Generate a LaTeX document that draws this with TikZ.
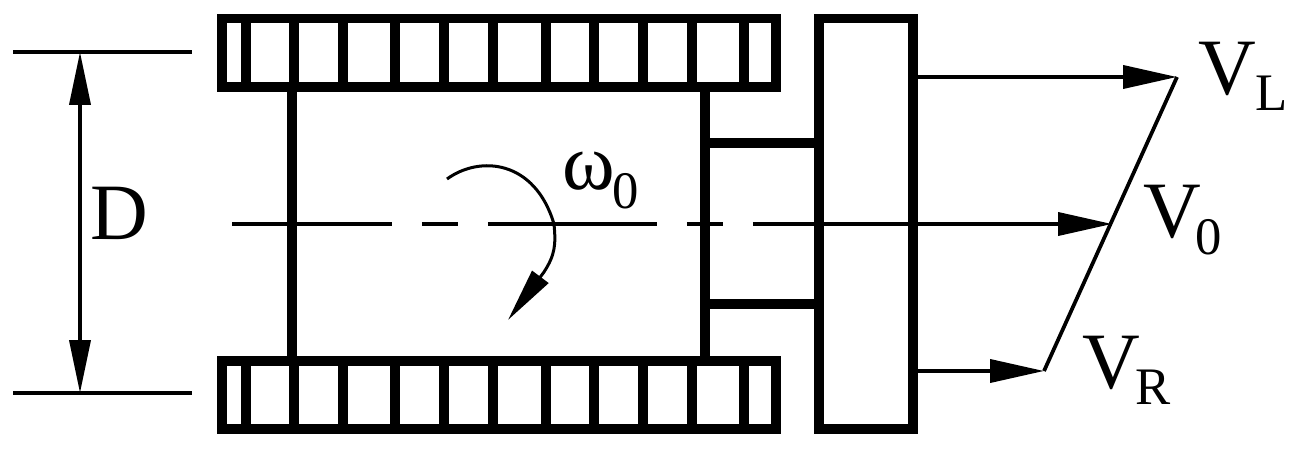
\documentclass[tikz,border=0pt]{standalone}
\usepackage{fontspec}
\setmainfont{Liberation Serif}
\usetikzlibrary{arrows.meta}

\newcommand{\bigsize}{\fontsize{45.5}{50}\selectfont}
\newcommand{\subsize}{\fontsize{30}{34}\selectfont}
\newcommand{\lowsub}[2]{\raisebox{-#1}{\subsize #2}}

\tikzset{
  heavy/.style={line width=0.185cm},
  thin line/.style={line width=0.075cm},
  vec/.style={thin line, -{Triangle[length=1.08cm,width=0.46cm]}},
  dimline/.style={thin line, {Triangle[length=1.06cm,width=0.42cm]}-{Triangle[length=1.06cm,width=0.42cm]}},
  spin/.style={line width=0.06cm, -{Triangle[length=1.08cm,width=0.40cm]}},
  lbl/.style={anchor=base west, inner sep=0pt, outer sep=0pt, font=\bigsize}
}

\begin{document}
\begin{tikzpicture}[x=0.02cm,y=-0.02cm]
  \useasboundingbox (0,0) rectangle (1301,452);

  % Tracks with their cross bars
  \draw[heavy] (222,18.5) rectangle (776,87);
  \draw[heavy] (222,361) rectangle (776,429);
  \foreach \x in {246,294,343,395,444,493,546,594,643,692,744}{
    \draw[heavy] (\x,18.5) -- (\x,87);
    \draw[heavy] (\x,361) -- (\x,429);
  }

  % Body, stub and wheel
  \draw[heavy] (292,87) -- (292,361);
  \draw[heavy] (705,87) -- (705,361);
  \draw[heavy] (705,143) -- (819,143);
  \draw[heavy] (705,304) -- (819,304);
  \draw[heavy] (819,18.5) rectangle (913,429);

  % Centre line
  \coordinate (axisstart) at (232,224);
  \coordinate (axisend) at (753,224);
  \draw[thin line, dash pattern=on 3.38cm off 0.6cm on 0.72cm off 0.6cm, dash phase=0.18cm] (axisstart) -- (axisend);

  % Width of the track
  \coordinate (topa) at (13,52);
  \coordinate (topb) at (192,52);
  \coordinate (lowa) at (13,393);
  \coordinate (lowb) at (192,393);
  \coordinate (dimtop) at (80,52);
  \coordinate (dimlow) at (80,393);
  \draw[thin line] (topa) -- (topb);
  \draw[thin line] (lowa) -- (lowb);
  \draw[dimline] (dimtop) -- (dimlow);
  \node[lbl] (dlabel) at (90,240) {D};

  % Speed vectors
  \coordinate (vlstart) at (913,77);
  \coordinate (vlend) at (1177,77);
  \coordinate (vzend) at (1112,224);
  \coordinate (vrstart) at (913,371);
  \coordinate (vrend) at (1044,371);
  \draw[vec] (vlstart) -- (vlend);
  \draw[vec] (axisend) -- (vzend);
  \draw[vec] (vrstart) -- (vrend);
  \draw[thin line] (vlend) -- (vrend);
  \node[lbl] (vllabel) at (1198,95) {V\lowsub{0.32cm}{L}};
  \node[lbl] (vzlabel) at (1143,238) {V\kern-0.1cm\lowsub{0.34cm}{0}};
  \node[lbl] (vrlabel) at (1082,388) {V\kern-0.08cm\lowsub{0.34cm}{R}};

  % Rotation
  \coordinate (spinstart) at (447,179);
  \coordinate (spinside) at (554,224);
  \coordinate (spinneck) at (544,272);
  \coordinate (spintip) at (508,320);
  \draw[spin] (spinstart) .. controls (480,155) and (535,160) .. (spinside)
    .. controls (556,245) and (555,255) .. (spinneck) -- (spintip);
  \node[lbl] (omlabel) at (562,190) {ω\kern-0.04cm\lowsub{0.38cm}{0}};
\end{tikzpicture}
\end{document}
